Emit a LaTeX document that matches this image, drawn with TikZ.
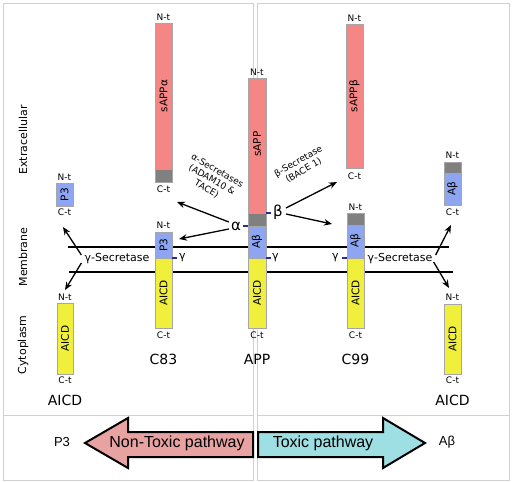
\documentclass[tikz,border=0pt]{standalone}
\usepackage{fontspec}
\setmainfont{DejaVu Sans}
\newfontfamily\helv{Liberation Sans}
\usetikzlibrary{arrows.meta}
\definecolor{pinkbar}{HTML}{F58686}
\definecolor{graybar}{HTML}{808080}
\definecolor{bluebar}{HTML}{8EA6F2}
\definecolor{yelbar}{HTML}{F0F03C}
\definecolor{tick}{HTML}{2A2AA0}
\definecolor{panel}{HTML}{D0D0D0}
\definecolor{ntox}{HTML}{E8A2A2}
\definecolor{tox}{HTML}{9EDFE3}
\begin{document}
\begin{tikzpicture}[x=1pt,y=-1pt,
  seg/.style={draw=black!35, line width=0.5pt},
  term/.style={font=\fontsize{9}{10}\selectfont, inner sep=0pt},
  inlab/.style={rotate=90, font=\fontsize{10.5}{11}\selectfont, inner sep=0pt},
  big/.style={font=\fontsize{14}{16}\selectfont, inner sep=0pt},
  side/.style={rotate=90, font=\fontsize{11}{12}\selectfont, inner sep=0pt},
  sec/.style={font=\fontsize{11}{13}\selectfont, inner sep=0pt},
  greek/.style={font=\fontsize{15}{17}\selectfont, inner sep=0pt},
  ticks/.style={draw=tick, line width=1.2pt},
  arr/.style={line width=1.3pt, -{Stealth[length=8pt,width=6.5pt]}},
  mem/.style={line width=1.3pt},
  secnote/.style={align=center, font=\fontsize{9}{10.5}\selectfont, inner sep=0pt},
  bigarrow/.style={draw=black, line width=2pt, line join=miter},
  pathtext/.style={font=\helv\fontsize{16}{18}\selectfont, inner sep=0pt},
  restext/.style={font=\helv\fontsize{13}{15}\selectfont, inner sep=0pt}
]
\useasboundingbox (0,0) rectangle (512,482);
% panels
\draw[panel, line width=0.8pt] (3,3) rectangle (253,415);
\draw[panel, line width=0.8pt] (257,3) rectangle (509,415);
\draw[panel, line width=0.8pt] (3,415) rectangle (253,480);
\draw[panel, line width=0.8pt] (257,415) rectangle (509,480);

% membrane lines
\draw[mem] (68,247) -- (449,247);
\draw[mem] (69,272) -- (453,272);

% side labels
\node[side] (extra) at (23,140) {Extracellular};
\node[side] (membr) at (23,257) {Membrane};
\node[side] (cyto) at (23,345) {Cytoplasm};

% sAPPalpha
\filldraw[seg, fill=pinkbar] (155,23) rectangle (172,169);
\filldraw[seg, fill=graybar] (155,169) rectangle (172,182);
\node[inlab] (sappa) at (163.5,96) {sAPPα};
\node[term] (sappaN) at (163.5,17) {N-t};
\node[term] (sappaC) at (163.5,189) {C-t};

% APP
\filldraw[seg, fill=pinkbar] (248,78) rectangle (266,213);
\filldraw[seg, fill=graybar] (248,213) rectangle (266,226);
\filldraw[seg, fill=bluebar] (248,226) rectangle (266,258);
\filldraw[seg, fill=yelbar] (248,258) rectangle (266,328);
\node[inlab] (sapp) at (257,144) {sAPP};
\node[inlab] (appab) at (257,242) {Aβ};
\node[inlab] (appaicd) at (257,293) {AICD};
\node[term] (appN) at (257,72) {N-t};
\node[term] (appC) at (257,335) {C-t};
\node[big] (app) at (257,359) {APP};

% sAPPbeta
\filldraw[seg, fill=pinkbar] (346,24) rectangle (363,168);
\node[inlab] (sappb) at (354.5,96) {sAPPβ};
\node[term] (sappbN) at (354.5,18) {N-t};
\node[term] (sappbC) at (354.5,176) {C-t};

% C83
\filldraw[seg, fill=bluebar] (155,232) rectangle (172,258);
\filldraw[seg, fill=yelbar] (155,258) rectangle (172,328);
\node[inlab] (c83p3) at (163.5,245) {P3};
\node[inlab] (c83aicd) at (163.5,293) {AICD};
\node[term] (c83N) at (163.5,225) {N-t};
\node[term] (c83C) at (163.5,335) {C-t};
\node[big] (c83) at (163.5,359) {C83};

% C99
\filldraw[seg, fill=graybar] (347,213) rectangle (364,225);
\filldraw[seg, fill=bluebar] (347,225) rectangle (364,258);
\filldraw[seg, fill=yelbar] (347,258) rectangle (364,328);
\node[inlab] (c99ab) at (355.5,241) {Aβ};
\node[inlab] (c99aicd) at (355.5,293) {AICD};
\node[term] (c99N) at (355.5,207) {N-t};
\node[term] (c99C) at (355.5,335) {C-t};
\node[big] (c99) at (355.5,359) {C99};

% P3 left
\filldraw[seg, fill=bluebar] (56,183) rectangle (73,206);
\node[inlab] (p3) at (64.5,194.5) {P3};
\node[term] (p3N) at (64.5,177) {N-t};
\node[term] (p3C) at (64.5,212) {C-t};

% Abeta right
\filldraw[seg, fill=graybar] (444,162) rectangle (461,173);
\filldraw[seg, fill=bluebar] (444,173) rectangle (461,205);
\node[inlab] (ab) at (452.5,189) {Aβ};
\node[term] (abN) at (452.5,155) {N-t};
\node[term] (abC) at (452.5,212) {C-t};

% AICD left
\filldraw[seg, fill=yelbar] (57,303) rectangle (73,374);
\node[inlab] (aicdl) at (65,338.5) {AICD};
\node[term] (aicdlN) at (65,297) {N-t};
\node[term] (aicdlC) at (65,380) {C-t};
\node[big] (aicdL) at (65,400) {AICD};

% AICD right
\filldraw[seg, fill=yelbar] (444,304) rectangle (461,374);
\node[inlab] (aicdr) at (452.5,339) {AICD};
\node[term] (aicdrN) at (452.5,297) {N-t};
\node[term] (aicdrC) at (452.5,380) {C-t};
\node[big] (aicdR) at (452.5,400) {AICD};

% cleavage ticks
\draw[ticks] (243,226) -- (248,226);
\draw[ticks] (266,213) -- (271,213);
\draw[ticks] (172,258) -- (177,258);
\draw[ticks] (266,258) -- (271,258);
\draw[ticks] (342,258) -- (347,258);
\node[greek] (alpha) at (236,226) {α};
\node[greek] (beta) at (278,212) {β};
\node[sec] (g1) at (182.5,258) {γ};
\node[sec] (g2) at (275.5,258) {γ};
\node[sec] (g3) at (335.5,258) {γ};

% secretase texts
\node[secnote, rotate=-30] (asec) at (212,180) {α-Secretases\\(ADAM10 \&\\TACE)};
\node[secnote, rotate=30] (bsec) at (301,166) {β-Secretase\\(BACE 1)};
\node[sec] (gsecL) at (117,259) {γ-Secretase};
\node[sec] (gsecR) at (400,259) {γ-Secretase};

% arrow end coordinates
\coordinate (a1) at (177,202);
\coordinate (a2) at (179,239);
\coordinate (b1) at (337,182);
\coordinate (b2) at (332,224);
\coordinate (gl1) at (63,227);
\coordinate (gl2) at (65,290);
\coordinate (gr1) at (451,225);
\coordinate (gr2) at (449,288);

\draw[arr] (alpha.west) ++(-2,-4) -- (a1);
\draw[arr] (alpha.west) ++(-2,3) -- (a2);
\draw[arr] (beta.east) ++(3,-4) -- (b1);
\draw[arr] (beta.east) ++(3,2) -- (b2);
\draw[arr] (gsecL.west) ++(-3,-4) -- (gl1);
\draw[arr] (gsecL.west) ++(-3,4) -- (gl2);
\draw[arr] (gsecR.east) ++(3,-4) -- (gr1);
\draw[arr] (gsecR.east) ++(1,3) -- (gr2);

% bottom pathway arrows
\filldraw[bigarrow, fill=ntox] (253,432) -- (128,432) -- (128,418) -- (85,443) -- (128,468) -- (128,457) -- (253,457) -- cycle;
\filldraw[bigarrow, fill=tox] (258,432) -- (383,432) -- (383,418) -- (425,443) -- (383,468) -- (383,457) -- (258,457) -- cycle;
\node[pathtext] (ntoxic) at (177,443) {Non-Toxic pathway};
\node[pathtext] (toxic) at (323,443) {Toxic pathway};
\node[restext] (p3res) at (62,442) {P3};
\node[restext] (abres) at (447,442) {Aβ};
\end{tikzpicture}
\end{document}
